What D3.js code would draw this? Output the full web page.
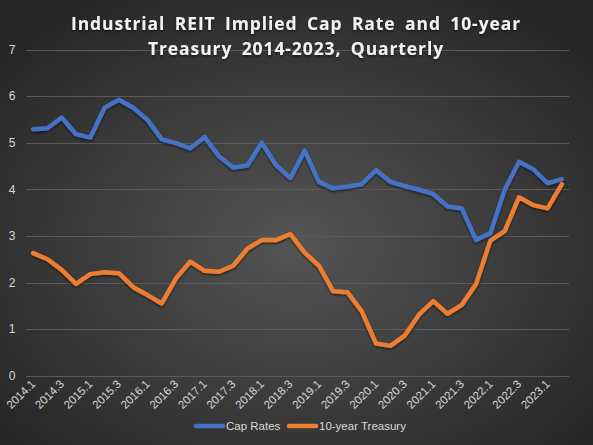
<!DOCTYPE html>
<html>
<head>
<meta charset="utf-8">
<script src="https://cdn.jsdelivr.net/npm/d3@7"></script>
<style>
  html, body { margin: 0; padding: 0; background: #333; }
  svg { display: block; }
</style>
</head>
<body>
<svg id="chart" width="593" height="445"></svg>
<script>
// quarters 2014.1 .. 2023.2
const quarters = [];
for (let y = 2014; y <= 2023; y++) {
  for (let q = 1; q <= 4; q++) {
    if (y === 2023 && q > 2) break;
    quarters.push(y + "." + q);
  }
}

const capRates = [5.29, 5.31, 5.54, 5.18, 5.11, 5.75, 5.92, 5.75, 5.49, 5.07,
  4.99, 4.88, 5.12, 4.71, 4.47, 4.51, 5.00, 4.52, 4.24, 4.83,
  4.16, 4.02, 4.06, 4.11, 4.41, 4.16, 4.07, 3.99, 3.90, 3.63,
  3.59, 2.91, 3.06, 3.99, 4.59, 4.43, 4.13, 4.22];

const treasury = [2.63, 2.50, 2.27, 1.97, 2.18, 2.22, 2.20, 1.90, 1.73, 1.55,
  2.09, 2.45, 2.25, 2.23, 2.36, 2.73, 2.91, 2.91, 3.04, 2.64,
  2.36, 1.81, 1.79, 1.38, 0.69, 0.64, 0.86, 1.31, 1.60, 1.33,
  1.52, 1.97, 2.90, 3.10, 3.83, 3.66, 3.59, 4.11];

const yTicks = [0, 1, 2, 3, 4, 5, 6, 7];
const seriesNames = ["Cap Rates", "10-year Treasury"];
const colors = ["#4472C4", "#ED7D31"];

const W = 593, H = 445;
const margin = { left: 26, right: 24, top: 49.5, bottom: 69.3 };

const svg = d3.select("#chart");
const defs = svg.append("defs");

// background radial gradient
const grad = defs.append("radialGradient")
  .attr("id", "bg").attr("cx", "50%").attr("cy", "55%").attr("r", "65%");
grad.append("stop").attr("offset", "0%").attr("stop-color", "#555555");
grad.append("stop").attr("offset", "100%").attr("stop-color", "#262626");
svg.append("rect").attr("width", W).attr("height", H).attr("fill", "url(#bg)");

const shadow = defs.append("filter").attr("id", "shadow")
  .attr("x", "-10%").attr("y", "-10%").attr("width", "120%").attr("height", "130%");
shadow.append("feDropShadow").attr("dx", 0).attr("dy", 1.5).attr("stdDeviation", 1.2)
  .attr("flood-color", "#000").attr("flood-opacity", 0.55);

const x = d3.scaleBand().domain(quarters)
  .range([margin.left, W - margin.right]);
const y = d3.scaleLinear().domain([0, 7])
  .range([H - margin.bottom, margin.top]);

// gridlines
svg.append("g")
  .selectAll("line").data(yTicks).enter().append("line")
  .attr("x1", margin.left).attr("x2", W - margin.right)
  .attr("y1", d => Math.round(y(d)) + 0.5).attr("y2", d => Math.round(y(d)) + 0.5)
  .attr("stroke", "#5a5a5a").attr("stroke-width", 1);

// y axis labels
const yAxis = d3.axisLeft(y).tickValues(yTicks).tickFormat(d3.format("d"))
  .tickSize(0).tickPadding(0);
const gy = svg.append("g").attr("transform", "translate(16,0)").call(yAxis);
gy.select(".domain").remove();
gy.selectAll("text")
  .attr("fill", "#d9d9d9").attr("font-family", "'Liberation Sans', Arial, sans-serif")
  .attr("font-size", 12).attr("text-anchor", "middle").attr("dx", -4);

// x axis labels
const xAxis = d3.axisBottom(x)
  .tickValues(quarters.filter((d, i) => i % 2 === 0))
  .tickSize(0).tickPadding(0);
const gx = svg.append("g").attr("transform", `translate(0,${H - margin.bottom})`).call(xAxis);
gx.select(".domain").remove();
gx.selectAll("text")
  .attr("fill", "#d9d9d9").attr("font-family", "'Liberation Sans', Arial, sans-serif")
  .attr("font-size", 11.5).attr("text-anchor", "end")
  .attr("dy", 0).attr("y", 0)
  .attr("transform", "translate(3,9) rotate(-45)");

// lines
const line = d3.line()
  .x((d, i) => x(quarters[i]) + x.bandwidth() / 2)
  .y(d => y(d));

[capRates, treasury].forEach((s, k) => {
  svg.append("path")
    .datum(s)
    .attr("d", line)
    .attr("fill", "none")
    .attr("stroke", colors[k])
    .attr("stroke-width", 4.5)
    .attr("stroke-linejoin", "round")
    .attr("stroke-linecap", "round")
    .attr("filter", "url(#shadow)");
});

// title
const title = svg.append("g")
  .attr("font-family", "'Open Sans', 'DejaVu Sans', sans-serif")
  .attr("font-weight", "bold").attr("font-size", 17.5)
  .attr("fill", "#f2f2f2").attr("text-anchor", "middle")
  .attr("letter-spacing", 0.9).attr("word-spacing", 4)
  .attr("filter", "url(#shadow)");
title.append("text").attr("x", 296).attr("y", 30)
  .text("Industrial REIT Implied Cap Rate and 10-year");
title.append("text").attr("x", 296).attr("y", 55)
  .text("Treasury 2014-2023, Quarterly");

// legend
const legendX = [196, 289];
seriesNames.forEach((name, k) => {
  const g = svg.append("g").attr("transform", `translate(${legendX[k]},426)`);
  g.append("line").attr("x1", 0).attr("x2", 27).attr("y1", 0).attr("y2", 0)
    .attr("stroke", colors[k]).attr("stroke-width", 4.5).attr("stroke-linecap", "round");
  g.append("text").attr("x", 30).attr("y", 4)
    .attr("fill", "#d9d9d9").attr("font-family", "'Liberation Sans', Arial, sans-serif")
    .attr("font-size", 11.5).text(name);
});
</script>
</body>
</html>
